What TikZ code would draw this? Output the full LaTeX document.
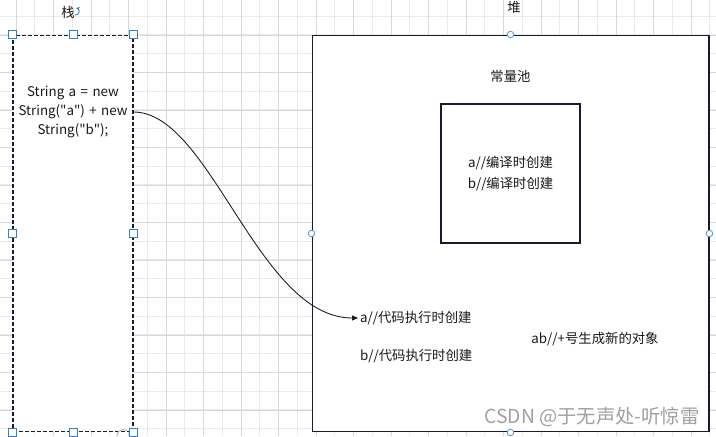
\documentclass[tikz,border=0pt]{standalone}
\usepackage{fontspec}
\setmainfont{Noto Sans CJK SC}
\usepackage{xcolor}
\usetikzlibrary{arrows.meta,positioning}
\definecolor{selblue}{RGB}{52,128,200}
\definecolor{boxline}{RGB}{26,26,46}
\definecolor{gridminor}{RGB}{234,234,234}
\definecolor{gridmajor}{RGB}{216,216,216}
\definecolor{marktext}{RGB}{160,160,160}
\tikzstyle{region}=[rectangle, draw=boxline, fill=white, line width=0.6pt, inner sep=0pt]
\tikzstyle{stackbox}=[region, preaction={draw=selblue!70, line width=0.6pt},
  dash pattern=on 0.08cm off 0.04cm]
\tikzstyle{note}=[font=\fontsize{7.6}{10.8}\selectfont, align=center, inner sep=1pt, text=black!90]
\tikzstyle{handle}=[rectangle, draw=selblue, fill=white, line width=0.5pt,
  minimum size=0.16cm, inner sep=0pt]
\tikzstyle{anchorpt}=[circle, draw=selblue!80, fill=white, line width=0.5pt,
  minimum size=0.13cm, inner sep=0pt]
\tikzstyle{arrow}=[-{Triangle[length=1.2mm,width=1mm]}, line width=0.5pt, boxline]
\begin{document}
\begin{tikzpicture}[x=0.02cm, y=-0.02cm]

    \useasboundingbox[fill=white] (0,0) rectangle (716,436);

    % Background grid
    \foreach \k in {0,...,38} {
      \draw[gridminor, line width=0.4pt] ({-2.75+18.75*\k},0) -- ++(0,436);
      \draw[gridminor, line width=0.4pt] (0,{-2.75+18.75*\k}) -- ++(716,0);
    }
    \foreach \k in {0,...,19} {
      \draw[gridmajor, line width=0.4pt] ({16+37.5*\k},0) -- ++(0,436);
      \draw[gridmajor, line width=0.4pt] (0,{-2.5+37.5*\k}) -- ++(716,0);
    }

    % Stack and heap regions
    \node[stackbox, minimum width=2.4cm, minimum height=7.94cm] (stack) at (73,233.5) {};
    \node[region, minimum width=7.94cm, minimum height=7.94cm] (heap) at (510.5,233.5) {};
    \node[region, minimum width=2.78cm, minimum height=2.78cm] (pool) at (510.5,173.5) {};

    % Selection handles
    \foreach \a [count=\i] in {north west,north,north east,west,east,south west,south,south east}
      \node[handle] (sh\i) at (stack.\a) {};
    \foreach \a [count=\i] in {north,west,east,south}
      \node[anchorpt] (hp\i) at (heap.\a) {};

    % Labels
    \node[note] (stacklbl) at (68,12) {栈};
    \draw[selblue, line width=0.5pt, -{Stealth[length=0.7mm,width=0.8mm]}]
      (75,15) arc[start angle=-100, end angle=80, radius=0.07cm];
    \node[note] (heaplbl) at (514,7) {堆};
    \node[note] (poollbl) at (510.5,76) {常量池};
    \node[note, text width=2.3cm] (code) at (73,112)
      {String a = new\\String(\textquotedbl a\textquotedbl) + new\\String(\textquotedbl b\textquotedbl);};
    \node[note, font=\fontsize{7.6}{11.9}\selectfont] (compiled) at (510.5,173.5)
      {a//编译时创建\\b//编译时创建};
    \node[note, anchor=west] (rta) at (358,318) {a//代码执行时创建};
    \node[note, anchor=west] (rtb) at (358,356) {b//代码执行时创建};
    \node[note] (concat) at (595,339) {ab//+号生成新的对象};
    \node[font=\fontsize{11}{13}\selectfont, text=marktext] (mark) at (592,417)
      {CSDN @于无声处-听惊雷};
    \draw[gray!55, line width=0.6pt] (117,436) arc[start angle=180, end angle=60, radius=0.13cm];

    \draw[arrow] (code.east -| stack.east) .. controls +(77,0) and +(-100,0) .. (rta.west);

  \end{tikzpicture}
\end{document}
